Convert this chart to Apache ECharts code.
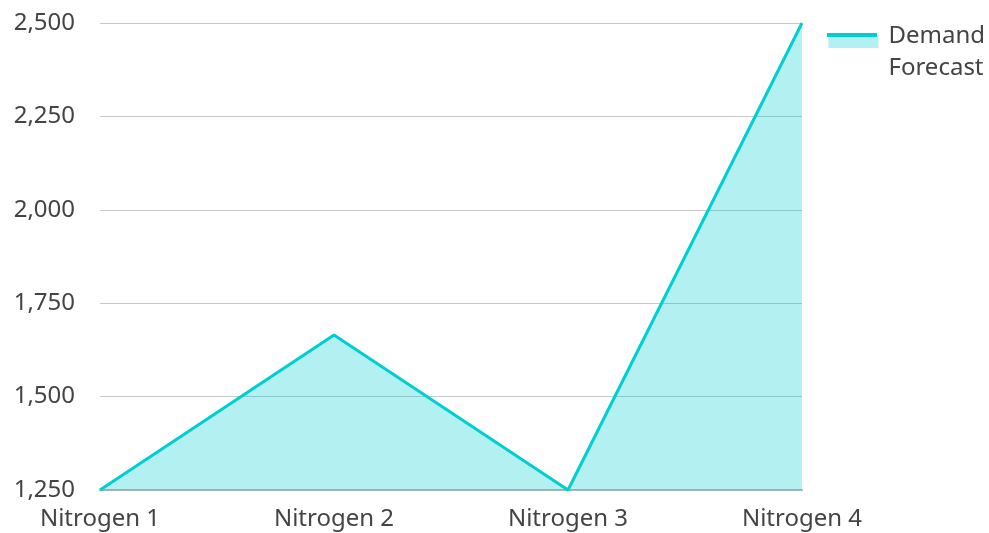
<!DOCTYPE html>
<html>
<head>
<meta charset="utf-8">
<script src="https://cdn.jsdelivr.net/npm/echarts@6/dist/echarts.min.js"></script>
<style>
  html, body { margin: 0; padding: 0; background: #fff; }
  #main { width: 989px; height: 533px; }
</style>
</head>
<body>
<div id="main"></div>
<script>
// chart data
var categories = ['Nitrogen 1', 'Nitrogen 2', 'Nitrogen 3', 'Nitrogen 4'];
var demandForecast = [1250, 1665, 1250, 2500];
var seriesName = 'Demand Forecast';

var lineColor = '#00CED1';
var fontFamily = '"Noto Sans", "Open Sans", sans-serif';

var myChart = echarts.init(document.getElementById('main'));

// legend icon: filled band near the top of a tall box, so it lines up with the first text line
var legendIcon = 'path://M0,0L0,0Z M55,64L55,64Z M0,15L50,15L50,28L0,28Z';

var option = {
  backgroundColor: '#fff',
  animation: false,
  grid: { left: 100, right: 187, top: 23, bottom: 43 },
  legend: {
    right: 4,
    top: 20,
    padding: 0,
    itemWidth: 55,
    itemHeight: 64,
    icon: legendIcon,
    itemStyle: { color: 'rgba(0,206,209,0.3)', borderWidth: 0 },
    formatter: function () { return 'Demand\nForecast'; },
    textStyle: { fontFamily: fontFamily, fontSize: 24, color: '#444', lineHeight: 32 },
    data: [seriesName]
  },
  // line stripe on top of the legend icon
  graphic: [{
    type: 'rect',
    shape: { x: 827, y: 33, width: 50, height: 4 },
    style: { fill: lineColor },
    z: 100
  }],
  xAxis: {
    type: 'category',
    boundaryGap: false,
    data: categories,
    axisLine: { show: true, lineStyle: { color: '#9fb9b9', width: 2 } },
    axisTick: { show: false },
    axisLabel: { margin: 17, fontFamily: fontFamily, fontSize: 24, color: '#444' }
  },
  yAxis: {
    type: 'value',
    min: 1250,
    max: 2500,
    interval: 250,
    axisLine: { show: false },
    axisTick: { show: false },
    splitLine: { lineStyle: { color: '#c8c8c8', width: 1 } },
    axisLabel: {
      margin: 25,
      fontFamily: fontFamily,
      fontSize: 24,
      color: '#444',
      formatter: function (v) { return v.toLocaleString('en-US'); }
    }
  },
  series: [{
    name: seriesName,
    type: 'line',
    data: demandForecast,
    showSymbol: false,
    symbol: 'none',
    lineStyle: { color: lineColor, width: 3 },
    itemStyle: { color: lineColor },
    areaStyle: { color: lineColor, opacity: 0.3 }
  }]
};

myChart.setOption(option);
</script>
</body>
</html>
